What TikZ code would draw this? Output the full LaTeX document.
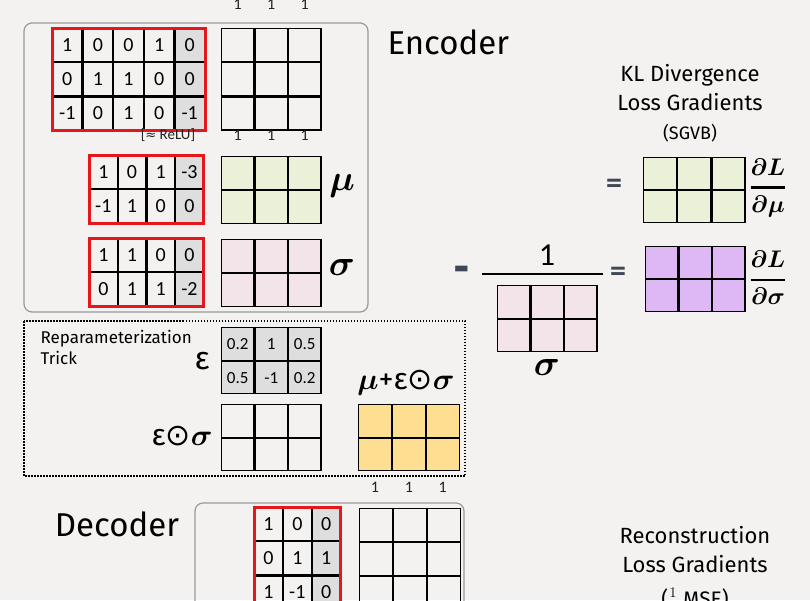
\RequirePackage{fix-cm}
\documentclass[tikz,border=0pt]{standalone}
\usepackage{amsmath}
\usepackage{fontspec}
\setmainfont{Fira Sans}
\newfontfamily\cellfont{Carlito}
\newfontfamily\symfont{DejaVu Sans}
\usetikzlibrary{matrix}
\definecolor{paper}{HTML}{F3F2F0}
\definecolor{rf}{HTML}{E5161C}
\definecolor{shade}{HTML}{DEDEDE}
\definecolor{lgreen}{HTML}{EBF1D8}
\definecolor{lpink}{HTML}{F2E4E9}
\definecolor{lpurple}{HTML}{DDB8F5}
\definecolor{lyellow}{HTML}{FEDF92}
\definecolor{opgray}{HTML}{404757}
\definecolor{boxgray}{HTML}{9A9A9A}
\definecolor{txtgray}{HTML}{222222}
\newcommand{\pdfrac}[2]{\genfrac{}{}{2.4pt}{0}{#1}{#2}}
\tikzset{
  mgrid/.style={matrix of nodes, nodes in empty cells, anchor=north west,
    inner sep=0pt, outer sep=0pt, column sep=0pt, row sep=0pt,
    nodes={draw=black, line width=1.2pt, inner sep=0pt, outer sep=0pt,
      anchor=center, font=\cellfont\fontsize{20}{20}\selectfont}},
  cellsize/.style 2 args={nodes={minimum width=#1, minimum height=#2}},
  cellfill/.style={nodes={fill=#1}},
  redbox/.style={draw=rf, line width=3pt},
  roundbox/.style={draw=boxgray, line width=1.2pt, rounded corners=8pt},
  dotbox/.style={draw=black, line width=1.5pt, dash pattern=on 1.5pt off 1.5pt},
  onelbl/.style={font=\cellfont\fontsize{16}{16}\selectfont, text=txtgray},
  head/.style={font=\fontsize{33}{33}\selectfont},
  greek/.style={font=\fontsize{36}{36}\selectfont},
  kltext/.style={font=\fontsize{22}{29}\selectfont, align=center},
  optext/.style={font=\cellfont\bfseries\fontsize{32}{32}\selectfont, text=opgray},
  minustext/.style={font=\symfont\bfseries\fontsize{40}{40}\selectfont, text=opgray},
  partial/.style={font=\fontsize{24}{24}\selectfont\boldmath},
}
\begin{document}
\begin{tikzpicture}[x=1pt,y=-1pt]
\useasboundingbox (0,0) rectangle (810,600);
\fill[paper] (0,0) rectangle (810,600);

% Encoder box
\draw[roundbox] (24,23) rectangle (368,312);
\node[head, anchor=west] (enc) at (384,42) {Encoder};

% input matrix
\matrix[mgrid, cellsize={29.4pt}{33pt}, column 5/.style={nodes={fill=shade}}] (g1) at (52,28) {
1 & 0 & 0 & 1 & 0\\
0 & 1 & 1 & 0 & 0\\
-1 & 0 & 1 & 0 & -1\\
};
\draw[redbox] (g1.north west) rectangle (g1.south east);
\node[font=\cellfont\fontsize{15}{15}\selectfont, text=txtgray] (relu) at (168,135) {[{\symfont\fontsize{13}{13}\selectfont ≈} ReLU]};

\matrix[mgrid, cellsize={32.3pt}{33pt}] (e1) at (221,28) {
 & & \\
 & & \\
 & & \\
};
\node[onelbl] (e1t1) at (e1-1-1 |- 0,4) {1};
\node[onelbl] (e1t2) at (e1-1-2 |- 0,4) {1};
\node[onelbl] (e1t3) at (e1-1-3 |- 0,4) {1};
\node[onelbl] (e1b1) at (e1-3-1 |- 0,135) {1};
\node[onelbl] (e1b2) at (e1-3-2 |- 0,135) {1};
\node[onelbl] (e1b3) at (e1-3-3 |- 0,135) {1};

% mu weights
\matrix[mgrid, cellsize={27.5pt}{33pt}, column 4/.style={nodes={fill=shade}}] (m1) at (89,155) {
1 & 0 & 1 & -3\\
-1 & 1 & 0 & 0\\
};
\draw[redbox] (m1.north west) rectangle (m1.south east);
\matrix[mgrid, cellsize={32.3pt}{32.7pt}, cellfill=lgreen] (mu) at (221,156) {
 & & \\
 & & \\
};
\node[greek] (mulbl) at (342,186) {$\boldsymbol{\mu}$};

% sigma weights
\matrix[mgrid, cellsize={27.5pt}{33pt}, column 4/.style={nodes={fill=shade}}] (s1) at (89,238) {
1 & 1 & 0 & 0\\
0 & 1 & 1 & -2\\
};
\draw[redbox] (s1.north west) rectangle (s1.south east);
\matrix[mgrid, cellsize={32.3pt}{32.7pt}, cellfill=lpink] (sg) at (221,239) {
 & & \\
 & & \\
};
\node[greek] (sglbl) at (342,267) {$\boldsymbol{\sigma}$};

% Reparameterization trick
\draw[dotbox] (24,321) rectangle (465,476);
\node[font=\fontsize{17}{21}\selectfont, align=left, anchor=north west] (rt) at (37,327) {Reparameterization\\Trick};
\matrix[mgrid, cellsize={32.3pt}{32.5pt}, cellfill=shade, nodes={font=\cellfont\fontsize{17}{17}\selectfont}] (eps) at (221,327) {
0.2 & 1 & 0.5\\
0.5 & -1 & 0.2\\
};
\node[font=\fontsize{32}{32}\selectfont] (epslbl) at (202,361) {ε};
\matrix[mgrid, cellsize={32.3pt}{32.5pt}] (eo) at (221,404) {
 & & \\
 & & \\
};
\node[font=\fontsize{30}{30}\selectfont, anchor=east] (eolbl) at (216,436) {ε{\symfont ⊙}$\boldsymbol{\sigma}$};
\matrix[mgrid, cellsize={32.7pt}{32.5pt}, cellfill=lyellow] (z) at (358,404) {
 & & \\
 & & \\
};
\node[font=\fontsize{30}{30}\selectfont] (zlbl) at (406,383) {$\boldsymbol{\mu}$+ε{\symfont ⊙}$\boldsymbol{\sigma}$};
\node[onelbl] (zb1) at (z-2-1 |- 0,487) {1};
\node[onelbl] (zb2) at (z-2-2 |- 0,487) {1};
\node[onelbl] (zb3) at (z-2-3 |- 0,487) {1};

% Decoder
\node[head] (dec) at (117,524) {Decoder};
\draw[roundbox] (195,503) rectangle (464,660);
\matrix[mgrid, cellsize={27.7pt}{33pt}, column 3/.style={nodes={fill=shade}}] (d1) at (254,507) {
1 & 0 & 0\\
0 & 1 & 1\\
1 & -1 & 0\\
};
\draw[redbox] (d1.north west) rectangle (d1.south east);
\matrix[mgrid, cellsize={32.7pt}{32.7pt}] (d2) at (359,508) {
 & & \\
 & & \\
 & & \\
};

% KL divergence gradients
\node[kltext] (kl) at (690,103) {KL Divergence\\Loss Gradients\\{\fontsize{18}{18}\selectfont (SGVB)}};
\matrix[mgrid, cellsize={33pt}{32pt}, cellfill=lgreen] (gmu) at (643,157) {
 & & \\
 & & \\
};
\node[optext] (eq1) at (614,186) {=};
\node[partial] (dmu) at (768,188) {$\pdfrac{\partial L}{\partial \mu}$};

\node[minustext] (minus) at (462,273) {-};
\coordinate (fl) at (482,274);
\coordinate (fr) at (603,274);
\draw[line width=2pt] (fl) -- (fr);
\node[font=\cellfont\fontsize{32}{32}\selectfont] (one) at (547,255) {1};
\matrix[mgrid, cellsize={32.3pt}{32.5pt}, cellfill=lpink] (sd) at (497,285) {
 & & \\
 & & \\
};
\node[greek] (sdlbl) at (547,367) {$\boldsymbol{\sigma}$};
\node[optext] (eq2) at (618,274) {=};
\matrix[mgrid, cellsize={32.3pt}{32pt}, cellfill=lpurple] (gsg) at (645,246) {
 & & \\
 & & \\
};
\node[partial] (dsg) at (768,278) {$\pdfrac{\partial L}{\partial \sigma}$};

% Reconstruction
\node[kltext] (rec) at (695,550) {Reconstruction\\Loss Gradients};
\node[font=\fontsize{21}{21}\selectfont] (mse) at (695,601) {($\frac{1}{2}$ MSE)};
\end{tikzpicture}
\end{document}
